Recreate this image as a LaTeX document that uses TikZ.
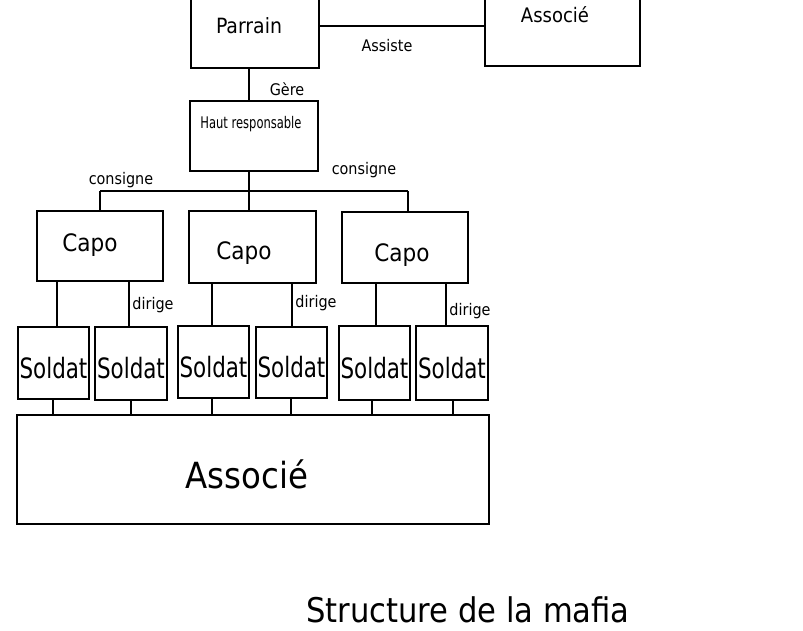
\documentclass[tikz,border=0pt]{standalone}
\usepackage{fontspec}
\setmainfont{DejaVu Sans Condensed}
\begin{document}
\begin{tikzpicture}[x=1pt,y=-1pt,
  box/.style={draw,line width=1.2pt},
  lbl/.style={font=\fontsize{16}{18}\selectfont},
  ln/.style={line width=1.1pt}]
\useasboundingbox (0,0) rectangle (803,630);
\draw[box] (191,-2) rectangle (319,68); \node at (249,26) {\fontsize{21}{23}\selectfont Parrain};
\coordinate (parr) at (249,68); \coordinate (parrR) at (319,26);
\draw[box] (485,-2) rectangle (640,66); \node at (555,15) {\fontsize{20}{22}\selectfont Associé};
\coordinate (assL) at (485,26);
\draw[ln] (parrR) -- (assL); \node[lbl] at (387,46) {Assiste};
\draw[box] (190,101) rectangle (318,171); \node at (251,124) {\fontsize{16}{18}\selectfont\addfontfeature{FakeStretch=0.8}Haut responsable};
\coordinate (haut) at (249,101); \coordinate (hautB) at (249,171);
\draw[ln] (parr) -- (haut); \node[lbl] at (287,89) {Gère};
\coordinate (j) at (249,191);
\draw[ln] (hautB) -- (j); \draw[ln] (100,191) -- (408,191);
\node[lbl] at (121,180) {consigne}; \node[lbl] at (364,170) {consigne};
\foreach \n/\a/\b/\c/\d/\tx/\ty in {c1/37/211/163/281/90/245, c2/189/211/316/283/244/253, c3/342/212/468/283/402/255}{
  \draw[box] (\a,\b) rectangle (\c,\d); \node at (\tx,\ty) {\fontsize{24}{26}\selectfont Capo};}
\draw[ln] (100,191) -- (100,211); \draw[ln] (249,191) -- (249,211); \draw[ln] (408,191) -- (408,212);
\foreach \a/\b/\c/\d in {18/327/89/399, 95/327/167/400, 178/326/249/398, 256/327/327/398, 339/326/410/400, 416/326/488/400}{
  \draw[box] (\a,\b) rectangle (\c,\d);
  \node at ({(\a+\c)/2},{(\b+\d)/2+5}) {\fontsize{28}{30}\selectfont\addfontfeature{FakeStretch=0.85}Soldat};}
\foreach \x/\t/\b in {57/281/327, 129/281/327, 212/283/326, 292/283/327, 376/283/326, 446/283/326}
  \draw[ln] (\x,\t) -- (\x,\b);
\node[lbl] at (153,305) {dirige}; \node[lbl] at (316,303) {dirige}; \node[lbl] at (470,311) {dirige};
\draw[box] (17,415) rectangle (489,524); \node at (247,474) {\fontsize{36}{40}\selectfont Associé};
\foreach \x/\t in {53/399, 131/400, 212/398, 291/398, 372/400, 453/400}
  \draw[ln] (\x,\t) -- (\x,415);
\node at (468,610) {\fontsize{34}{38}\selectfont Structure de la mafia};
\end{tikzpicture}
\end{document}
